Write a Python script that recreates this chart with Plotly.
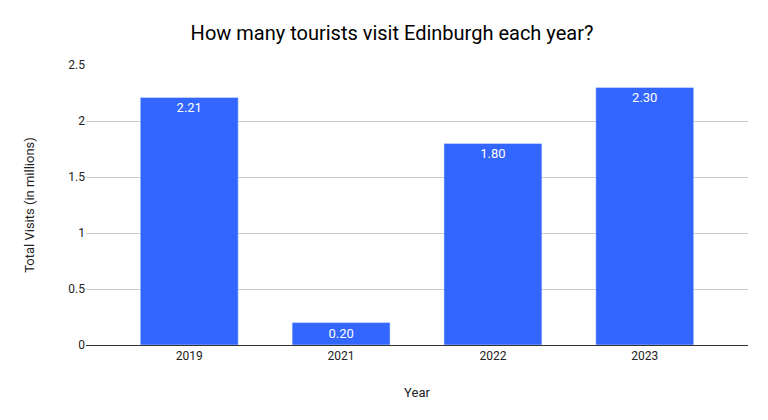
import plotly.graph_objects as go

years = ["2019", "2021", "2022", "2023"]
visits = [2.21, 0.20, 1.80, 2.30]
labels = ["2.21", "0.20", "1.80", "2.30"]

fig = go.Figure()
fig.add_bar(x=years, y=visits, text=labels, textposition="inside",
            insidetextanchor="end", textfont=dict(color="white", size=13),
            marker_color="#3366ff", width=0.645)

fig.update_layout(
    width=768, height=420,
    font=dict(family="Roboto, Arial", color="#222"),
    title=dict(text="How many tourists visit Edinburgh each year?", x=0.5, y=0.957,
               xanchor="center", font=dict(size=20, color="#000")),
    margin=dict(l=78, r=28, t=57, b=83),
    plot_bgcolor="white", paper_bgcolor="white",
    showlegend=False,
    xaxis=dict(title=dict(text="Year", font=dict(size=13), standoff=25),
               range=[-0.68, 3.68], showline=True, linecolor="#333",
               tickfont=dict(size=12), ticks=""),
    yaxis=dict(title=dict(text="Total Visits (in millions)", font=dict(size=13), standoff=30),
               range=[0, 2.5], dtick=0.5, tickformat="~g", gridcolor="#ccc",
               tickfont=dict(size=12), zeroline=False),
)
fig.write_html("out.html")
